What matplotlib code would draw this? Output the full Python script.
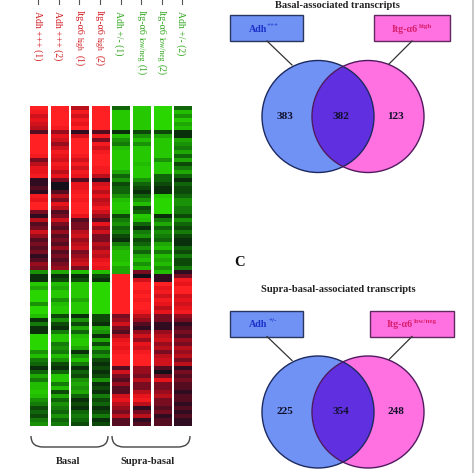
import numpy as np
import matplotlib
matplotlib.use("Agg")
import matplotlib.pyplot as plt
from matplotlib.colors import LinearSegmentedColormap
from matplotlib.patches import Circle, Rectangle, PathPatch
from matplotlib.path import Path

plt.rcParams['font.family'] = ['Liberation Serif', 'DejaVu Serif']

# heatmap values, top to bottom: + is red, - is green, 0 is black
adh_1 = [9,8,6,7,6,5,2,9,9,9, 9,9,8,3,5,7,7,8,1,1, 2,1,8,7,9,9,3,1,5,2, 3,6,4,2,3,2,3,1,2,4, 3,
         -5,-1,-1,-8,-6,-9,-9,-9,-5,-9, -9,-7,-1,-4,-1,-1,-9,-9,-9,-9, -5,-7,-4,-3,-1,-3,-6,-4,-7,-7, -8,-7,-5,-4,-2,-3,-2,-4,-5]
adh_2 = [9,9,9,9,9,8,4,7,6,4, 6,8,7,6,8,7,5,7,3,0, 0,2,5,3,7,5,2,3,6,3, 2,4,2,3,2,4,2,3,2,3, 4,
         -6,-1,-2,-7,-6,-8,-8,-5,-7,-8, -8,-2,-5,-2,-1,-4,-8,-8,-4,-5, -4,-7,-5,-2,-1,-3,-8,-8,-4,-7, -2,-6,-3,-5,-4,-3,-5,-3,-4]
itg_high_1 = [5,8,6,8,7,9,1,6,9,9, 9,9,8,6,8,6,8,7,2,7, 7,8,9,8,9,9,9,7,2,3, 3,5,6,4,5,6,3,4,5,6, 3,
              -7,-1,-2,-8,-8,-8,-8,-6,-8,-8, -8,-1,-5,-2,-6,-3,-7,-8,-8,-6, -1,-5,-7,-4,-1,-3,-2,-5,-6,-5, -6,-3,-1,-2,-1,-3,-4,-3,-2]
itg_high_2 = [9,9,9,9,9,9,2,8,3,8, 6,8,9,9,9,8,8,5,1,6, 7,5,7,5,6,8,6,4,2,7, 4,6,3,3,5,4,6,5,7,8, 7,
              -7,-2,-1,-9,-9,-9,-9,-9,-9,-9, -9,-2,-2,-1,-6,-5,-1,-6,-2,-6, -3,-5,-2,-1,-2,-1,-2,-5,-1,-2, -1,-4,-2,-3,-1,-2,-4,-1,-2]
adh_low_1 = [-3,-8,-8,-8,-8,-8,-1,-7,-5,-4, -7,-8,-8,-8,-8,-8,-6,-3,-5,-2, -3,-3,-5,-7,-8,-8,-7,-2,-4,-5, -3,-4,-2,-1,-4,-6,-7,-7,-7,-8, -6,
             -6,9,9,9,9,9,9,9,9,9, 9,3,4,6,3,2,5,7,8,7, 8,9,9,9,2,6,3,2,4,2, 2,6,7,5,4,3,5,2,2]
itg_low_1 = [-8,-8,-8,-8,-8,-8,-2,-5,-7,-5, -8,-8,-8,-8,-7,-8,-8,-8,-5,-3, -2,-1,-3,-5,-7,-2,-3,-8,-7,-3, -1,-4,-5,-2,-3,-5,-3,-6,-7,-5, -7,
             3,0,6,9,9,8,9,8,9,9, 8,5,4,2,1,4,6,4,7,6, 8,9,9,9,4,4,3,5,3,3, 5,7,8,5,1,3,5,1,2]
itg_low_2 = [-9,-9,-9,-9,-9,-9,-2,-6,-8,-8, -8,-8,-8,-5,-8,-8,-8,-3,-3,-2, -1,-1,-8,-9,-9,-9,-9,-1,-4,-6, -3,-5,-4,-3,-6,-7,-4,-7,-6,-7, -5,
             -7,1,1,9,7,8,6,8,7,5, 7,3,3,1,1,4,5,6,4,5, 3,5,6,6,2,0,3,7,3,3, 4,5,3,3,2,3,1,2,2]
adh_low_2 = [-3,-7,-5,-8,-6,-7,-1,-1,-6,-5, -4,-6,-3,-6,-2,-4,-6,-3,-1,-3, -2,-2,-3,-5,-5,-4,-4,-2,-5,-3, -2,-4,-2,-1,-1,-3,-2,-4,-2,-2, -4,
             1,3,8,7,9,9,6,7,6,7, 8,4,3,1,2,3,2,4,3,5, 4,5,3,5,1,3,2,3,2,2, 1,2,2,1,2,1,2,1,1]

heat_columns = [adh_1, adh_2, itg_high_1, itg_high_2, adh_low_1, itg_low_1, itg_low_2, adh_low_2]
groups = ["Basal", "Supra-basal"]
venn_counts_b = [383, 382, 123]
venn_counts_c = [225, 354, 248]

RED = "#d01c22"
GREEN = "#2fa81c"
BLUE = "#7092f5"
PINK = "#ff70e0"
MID = "#6030e0"

fig = plt.figure(figsize=(4.74, 4.74), dpi=100)
ax = fig.add_axes([0, 0, 1, 1])
ax.set_xlim(0, 474)
ax.set_ylim(474, 0)
ax.axis("off")

# heatmap, colour rises fast away from black like in the original
stops = [(-9, "#2ad600"), (-7, "#22bc04"), (-5, "#1a9208"), (-3, "#10640a"), (-1, "#0a300c"), (0, "#141018"),
         (1, "#300c20"), (3, "#780c20"), (5, "#b8101c"), (7, "#e8141c"), (9, "#ff2024")]
cmap = LinearSegmentedColormap.from_list("gbr", [((v + 9) / 18, c) for v, c in stops])
col_left = [30, 51, 71, 92, 112, 133, 154, 174]
col_width = 18
for x0, col in zip(col_left, heat_columns):
    data = np.array(col, dtype=float).reshape(-1, 1)
    ax.imshow(data, cmap=cmap, vmin=-9, vmax=9, aspect="auto", interpolation="nearest",
              extent=(x0, x0 + col_width, 426, 106))
ax.set_xlim(0, 474)
ax.set_ylim(474, 0)

# column ticks and labels
tick_x = [38, 59, 79, 100, 121, 141, 162, 182]
label_x = [38, 58, 79, 99, 119, 141, 161, 181]
for x in tick_x:
    ax.plot([x, x], [0, 4], color="#555555", lw=0.8)


def vtext(x, y, s, color, size):
    ax.text(x, y, s, color=color, fontsize=size, rotation=-90, ha="center", va="top")


vtext(label_x[0], 11, "Adh +++ (1)", RED, 7)
vtext(label_x[1], 11, "Adh +++ (2)", RED, 7)
vtext(label_x[4], 11, "Adh +/- (1)", GREEN, 7)
vtext(label_x[7], 11, "Adh +/- (2)", GREEN, 7)
for i, n in [(2, 1), (3, 2)]:
    vtext(label_x[i], 10, "Itg-α6", RED, 7.2)
    vtext(label_x[i], 37, "high", RED, 5.5)
    vtext(label_x[i], 55, f"({n})", RED, 7)
for i, n in [(5, 1), (6, 2)]:
    vtext(label_x[i], 10, "Itg-α6", GREEN, 7.2)
    vtext(label_x[i], 37, "low/neg", GREEN, 5.5)
    vtext(label_x[i], 64, f"({n})", GREEN, 7)


# braces under the heatmap
def brace(x0, x1):
    y0, y1 = 436, 447
    verts = [(x0, y0), (x0, y1), (x0 + 12, y1), ((x0 + x1) / 2, y1), (x1 - 12, y1), (x1, y1), (x1, y0)]
    codes = [Path.MOVETO, Path.CURVE3, Path.CURVE3, Path.LINETO, Path.LINETO, Path.CURVE3, Path.CURVE3]
    ax.add_patch(PathPatch(Path(verts, codes), fc="none", ec="#444444", lw=1))


brace(31, 108)
brace(112, 190)
ax.text(68, 462, groups[0], fontsize=7.6, fontweight="bold", ha="center", va="center", color="#222222")
ax.text(148, 462, groups[1], fontsize=7.6, fontweight="bold", ha="center", va="center", color="#222222")


def venn(cy, counts, box_top, pink_box, adh_sup, itg_sup, itg_x, sup_x):
    box_bot = box_top + 26
    left = Circle((318, cy), 56, fc=BLUE, ec="none")
    right = Circle((368, cy), 56, fc=PINK, ec="none")
    ax.add_patch(left)
    ax.add_patch(right)
    lens = Circle((318, cy), 56, fc=MID, ec="none")
    ax.add_patch(lens)
    lens.set_clip_path(Circle((368, cy), 56, transform=ax.transData))
    ax.add_patch(Circle((318, cy), 56, fc="none", ec="#1c2a60", lw=1))
    ax.add_patch(Circle((368, cy), 56, fc="none", ec="#501a60", lw=1))

    ax.add_patch(Rectangle((230, box_top), 73, box_bot - box_top, fc=BLUE, ec="#2a3560", lw=1))
    ax.add_patch(Rectangle((pink_box[0], box_top), pink_box[1] - pink_box[0], box_bot - box_top,
                           fc=PINK, ec="#602a60", lw=1))
    ax.plot([267, 292], [box_bot, box_bot + 24], color="#333333", lw=0.9)
    ax.plot([412, 389], [box_bot, box_bot + 23], color="#333333", lw=0.9)

    mid_y = box_top + 13
    ax.text(258, mid_y + 1, "Adh", color="#1c30c8", fontsize=7.2, fontweight="bold", ha="center", va="center")
    ax.text(272.5, mid_y - 3, adh_sup, color="#1c30c8", fontsize=5, fontweight="bold", ha="center", va="center")
    ax.text(itg_x, mid_y + 1, "Itg-α6", color="#d8206e", fontsize=7.2, fontweight="bold", ha="center", va="center")
    ax.text(sup_x, mid_y - 2, itg_sup, color="#d8206e", fontsize=5, fontweight="bold", ha="center", va="center")

    for x, n in zip([285, 341, 396], counts):
        ax.text(x, cy, str(n), color="#10102a", fontsize=8, fontweight="bold", ha="center", va="center")


venn(116.5, venn_counts_b, 15, (374, 450), "+++", "high", 405, 425)
venn(412, venn_counts_c, 310.5, (370, 454), "+/-", "low/neg", 399.5, 425)

# titles
ax.text(337, 5, "Basal-associated transcripts", fontsize=7.6, fontweight="bold", ha="center", va="center",
        color="#222222")
ax.text(338, 290, "Supra-basal-associated transcripts", fontsize=7.6, fontweight="bold", ha="center", va="center",
        color="#222222")
ax.text(240, 263, "C", fontsize=10.5, fontweight="bold", ha="center", va="center", color="#111111")

# grey edge on the right
ax.add_patch(Rectangle((472, 0), 2, 473, fc="#c8c8c8", ec="none"))

fig.savefig("out.png", dpi=100)
